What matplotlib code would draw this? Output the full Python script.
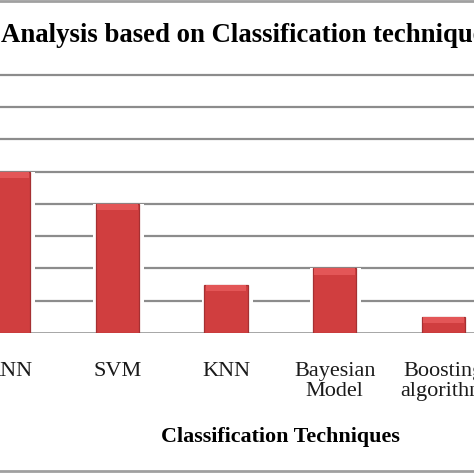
import matplotlib.pyplot as plt

# data
techniques = ['ANN', 'SVM', 'KNN', 'Bayesian\nModel', 'Boosting\nalgorithm']
scores = [5, 4, 1.5, 2, 0.5]
grid_levels = [1, 2, 3, 4, 5, 6, 7, 8]

plt.rcParams['font.family'] = 'Liberation Serif'

fig = plt.figure(figsize=(4.74, 4.74), dpi=100)
ax = fig.add_axes([0, 141 / 474, 1, 260 / 474])

x = list(range(len(techniques)))
w = 0.4

# grid lines
for g in grid_levels:
    ax.axhline(g, color='#8c8c8c', lw=1.6, zorder=1)
ax.axhline(0, color='#8c8c8c', lw=1.8, zorder=2.5)

# white "shadow" behind the bars hides the grid a bit around them
ax.bar([i + 0.01 for i in x], scores, width=w + 0.07, color='white', zorder=2)

# bars
ax.bar(x, scores, width=w, color='#d03e3f', edgecolor='#a53032', lw=0.9, zorder=3)
bevel = 0.2
ax.bar(x, [bevel] * len(x), bottom=[s - bevel for s in scores], width=w * 0.94,
       color='#e35657', lw=0, zorder=4)

ax.set_xlim(-8.5 / 108.75, (474 - 8.5) / 108.75)
ax.set_ylim(0, 8.05)
ax.set_xticks(x)
ax.set_xticklabels(techniques, fontsize=16, color='#1a1a1a', linespacing=1.05)
ax.tick_params(axis='x', length=0, pad=21)
ax.set_yticks([])
for s in ax.spines.values():
    s.set_visible(False)

fig.text(1 / 474, 1 - 42 / 474, 'Analysis based on Classification techniques',
         fontsize=19.3, fontweight='bold', ha='left', va='baseline')
fig.text(280 / 474, 1 - 442 / 474, 'Classification Techniques',
         fontsize=15.8, fontweight='bold', ha='center', va='baseline')

# chart border lines (top and bottom of the frame)
fig.add_artist(plt.Line2D([0, 1], [1 - 1 / 474, 1 - 1 / 474], color='#a0a0a0', lw=2))
fig.add_artist(plt.Line2D([0, 1], [1 - 471 / 474, 1 - 471 / 474], color='#a0a0a0', lw=2))

fig.savefig('out.png', dpi=100)
